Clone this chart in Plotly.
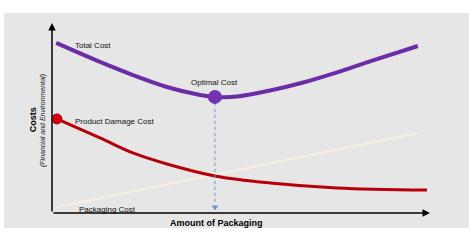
import plotly.graph_objects as go

# Amount of packaging (x) vs cost (y), arbitrary units
total_x = [0.11, 1.27, 2.14, 3.04, 3.92, 4.31, 4.89, 5.77, 6.67, 7.54, 8.41, 9.68]
total_y = [8.95, 7.95, 7.26, 6.63, 6.21, 6.11, 6.13, 6.45, 6.88, 7.40, 7.98, 8.79]

damage_x = [0.13, 1.27, 2.14, 3.04, 4.31, 5.77, 7.54, 9.92]
damage_y = [4.95, 3.95, 3.16, 2.58, 1.95, 1.58, 1.32, 1.21]

packaging_x = [0.13, 9.68]
packaging_y = [0.32, 4.21]

optimal_x = [4.31]
optimal_y = [6.11]

labels = ["Total Cost", "Optimal Cost", "Product Damage Cost", "Packaging Cost"]
x_title = "Amount of Packaging"
y_title = "Costs"
y_subtitle = "(Financial and Environmental)"

FONT = "Liberation Sans, Arial, sans-serif"
PURPLE = "#6b2da6"
RED = "#b5000b"

fig = go.Figure()

# packaging cost line
fig.add_trace(go.Scatter(x=packaging_x, y=packaging_y, mode="lines",
                         line=dict(color="#f4efe2", width=2.5), hoverinfo="skip"))
# product damage cost
fig.add_trace(go.Scatter(x=damage_x, y=damage_y, mode="lines",
                         line=dict(color=RED, width=3, shape="spline", smoothing=1.0),
                         hoverinfo="skip"))
fig.add_trace(go.Scatter(x=damage_x[:1], y=damage_y[:1], mode="markers",
                         marker=dict(color="#d40010", size=10, line=dict(color="#a00008", width=1)),
                         hoverinfo="skip"))
# dashed drop line to x axis
fig.add_trace(go.Scatter(x=[optimal_x[0], optimal_x[0]], y=[optimal_y[0], 0.25], mode="lines",
                         line=dict(color="#6f8fcf", width=1, dash="dot"), hoverinfo="skip"))
fig.add_trace(go.Scatter(x=optimal_x, y=[0.3], mode="markers",
                         marker=dict(symbol="triangle-down", color="#6f8fcf", size=6),
                         hoverinfo="skip"))
# total cost
fig.add_trace(go.Scatter(x=total_x, y=total_y, mode="lines",
                         line=dict(color=PURPLE, width=4, shape="spline", smoothing=1.0),
                         hoverinfo="skip"))
fig.add_trace(go.Scatter(x=optimal_x, y=optimal_y, mode="markers",
                         marker=dict(color="#7432b0", size=14), hoverinfo="skip"))

ann = []
# axis arrows
ann.append(dict(x=0, y=10, ax=0, ay=0, xref="x", yref="y", axref="x", ayref="y",
                text="", showarrow=True, arrowhead=2, arrowsize=1, arrowwidth=1.5,
                arrowcolor="black"))
ann.append(dict(x=10, y=0, ax=0, ay=0, xref="x", yref="y", axref="x", ayref="y",
                text="", showarrow=True, arrowhead=2, arrowsize=1, arrowwidth=1.5,
                arrowcolor="black"))

# curve labels
ann.append(dict(x=0.55, y=8.84, text=labels[0], xanchor="left", yanchor="middle",
                showarrow=False, font=dict(family=FONT, size=8, color="#111")))
ann.append(dict(x=optimal_x[0], y=6.89, text=labels[1], xanchor="center", yanchor="middle",
                showarrow=False, font=dict(family=FONT, size=8, color="#111")))
ann.append(dict(x=0.55, y=4.79, text=labels[2], xanchor="left", yanchor="middle",
                showarrow=False, font=dict(family=FONT, size=8, color="#111")))
ann.append(dict(x=0.66, y=0.16, text=labels[3], xanchor="left", yanchor="middle",
                showarrow=False, font=dict(family=FONT, size=8, color="#111")))

# axis titles
ann.append(dict(x=0.434, y=-0.053, xref="paper", yref="paper", text="<b>" + x_title + "</b>",
                xanchor="center", yanchor="middle", showarrow=False,
                font=dict(family=FONT, size=9, color="black")))
ann.append(dict(x=-0.05, y=0.489, xref="paper", yref="paper", text="<b>" + y_title + "</b>",
                xanchor="center", yanchor="middle", showarrow=False, textangle=-90,
                font=dict(family=FONT, size=9, color="black")))
ann.append(dict(x=-0.024, y=0.489, xref="paper", yref="paper", text="<i>" + y_subtitle + "</i>",
                xanchor="center", yanchor="middle", showarrow=False, textangle=-90,
                font=dict(family=FONT, size=7, color="#222")))

fig.update_layout(
    width=474, height=242,
    margin=dict(l=52, r=44, t=23, b=29),
    paper_bgcolor="white",
    plot_bgcolor="rgba(0,0,0,0)",
    showlegend=False,
    annotations=ann,
    shapes=[dict(type="rect", xref="paper", yref="paper",
                 x0=-0.127, x1=1.103, y0=-0.079, y1=1.053,
                 fillcolor="#e6e6e6", line=dict(width=0), layer="below")],
    xaxis=dict(range=[0, 10], visible=False, fixedrange=True),
    yaxis=dict(range=[0, 10], visible=False, fixedrange=True),
)

fig.write_html("out.html", config={"displayModeBar": False})
